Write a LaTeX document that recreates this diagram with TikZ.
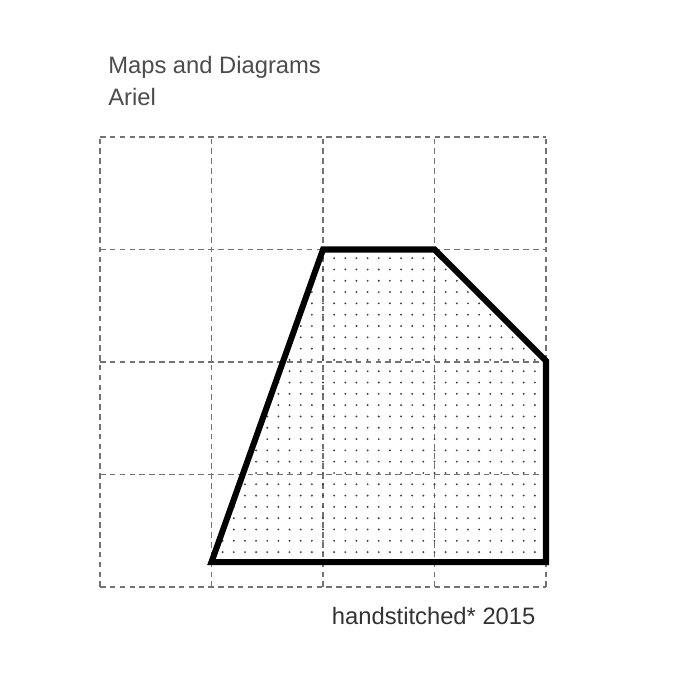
\documentclass[tikz,border=0pt]{standalone}
\usepackage{fontspec}
\setmainfont{Liberation Sans}
\usepackage{tikz}
\tikzset{
x=2.7875cm, y=2.8125cm,
gridline/.style={%
    draw=black!55,
    line width=0.9pt,
    dash pattern=on 4pt off 3pt
},
outline/.style={%
    draw=black,
    line width=4.3pt,
    line join=miter
},
dotfill/.style={fill=black!75},
label/.style={%
    inner sep=0pt,
    anchor=base west,
    text=black!70,
    font=\fontsize{16.9}{20}\selectfont
},
}

\begin{document}
\begin{tikzpicture}
	\useasboundingbox[fill=white] (-2.5cm,-2.825cm) rectangle (15cm,14.675cm);

	% dashed grid
	\foreach \k in {0,...,4} {
		\draw[gridline] (\k,0) -- (\k,4);
		\draw[gridline] (0,\k) -- (4,\k);
	}

	% corners of the shape
	\coordinate (bl) at (1,0.222);
	\coordinate (tl) at (2,3);
	\coordinate (tr) at (3,3);
	\coordinate (rt) at (4,2.01);
	\coordinate (br) at (4,0.222);

	% dotted fill
	\begin{scope}
		\clip (bl) -- (tl) -- (tr) -- (rt) -- (br) -- cycle;
		\foreach \i in {10,...,40}
			\foreach \j in {0,...,26}
				\fill[dotfill] (\i/10, 0.31+\j*0.1005) circle[radius=0.75pt];
	\end{scope}

	\draw[outline] (bl) -- (tl) -- (tr) -- (rt) -- (br) -- cycle;

	% texts
	\node[label] (title) at (0.072,4.566) {Maps and Diagrams};
	\node[label] (name) at (0.072,4.284) {Ariel};
	\node[label, text=black!80] (credit) at (2.078,-0.332) {handstitched* 2015};
\end{tikzpicture}
\end{document}
